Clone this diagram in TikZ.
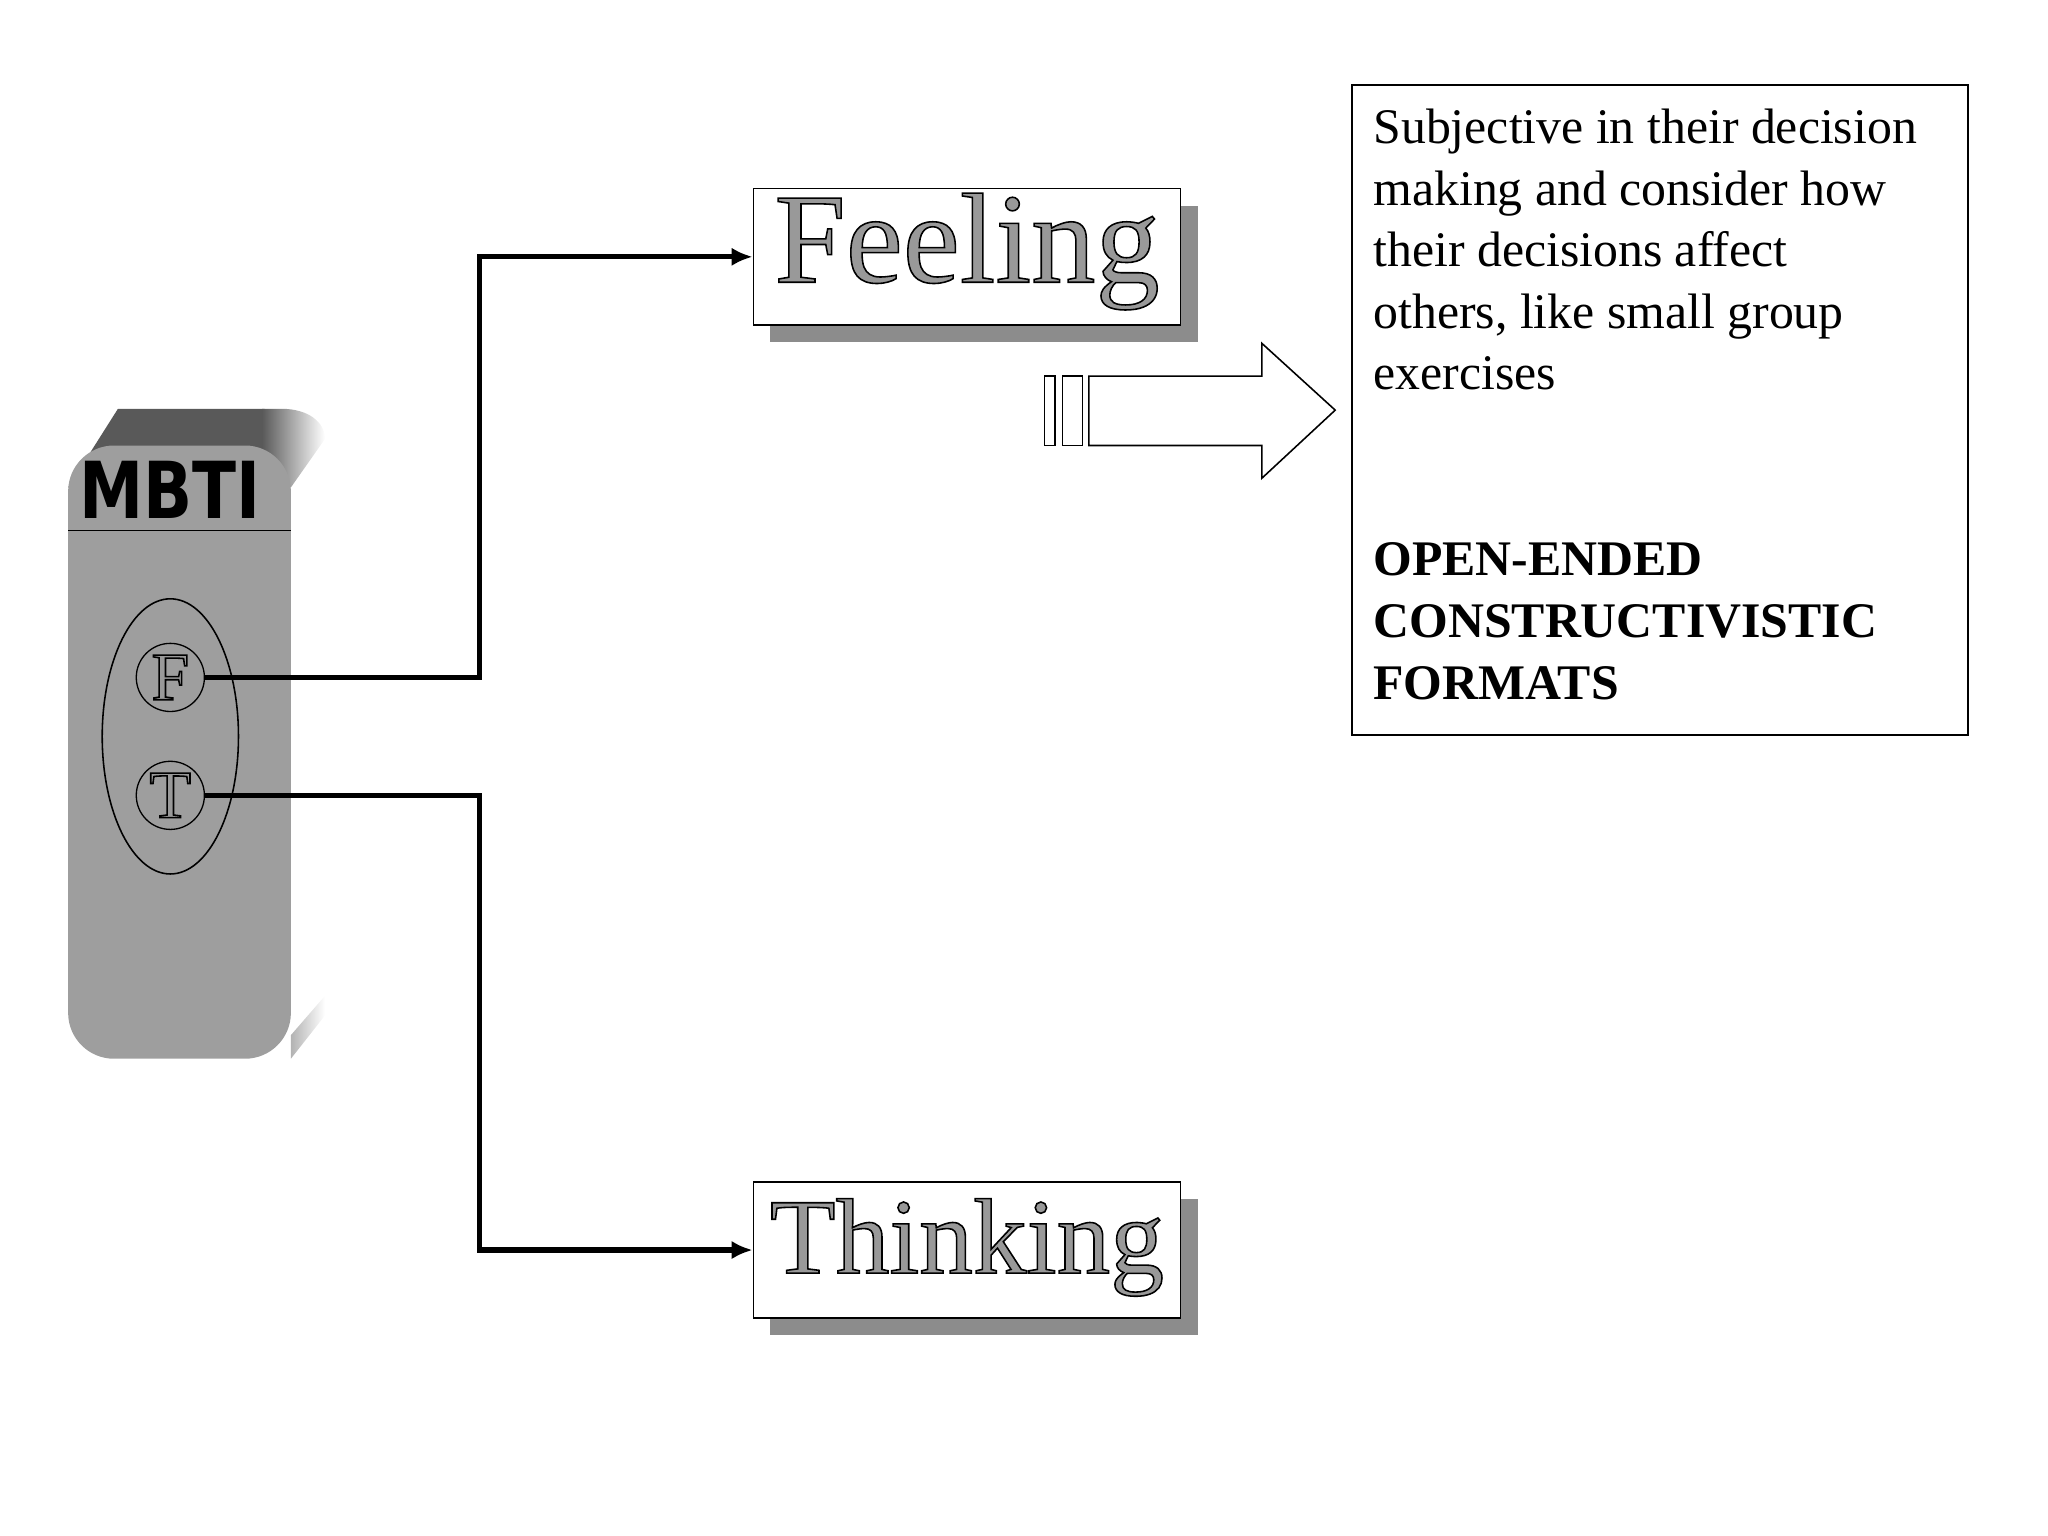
\documentclass[tikz,border=0pt]{standalone}
\usepackage{fontspec}
\setmainfont{Liberation Serif}
\newfontfamily\mbtifont{DejaVu Sans}
\usetikzlibrary{arrows.meta,shapes.arrows}
\newcommand{\outlinetext}[1]{{\color{black!40}\special{pdf:code q 2 Tr 1.2 w 0 G}#1\special{pdf:code Q}}}
\tikzset{
  conn/.style={line width=4pt,-{Latex[length=16pt,width=14pt]}},
  lbox/.style={draw,line width=1.2pt,fill=white,minimum width=326pt,minimum height=104pt,inner sep=0pt},
  shad/.style={fill=black!45},
}
\begin{document}
\begin{tikzpicture}[x=1pt,y=-1pt]
\useasboundingbox (0,0) rectangle (1563,1172);
% MBTI block
\fill[black!65] (52,372) -- (90,312) -- (202,312) -- (202,372) -- cycle;
\shade[left color=black!65,right color=white] (200,312) -- (215,312) .. controls (235,312) and (248,322) .. (248,335) -- (222,372) -- (200,372) -- cycle;
\shade[left color=black!30,right color=white] (222,790) -- (248,760) -- (248,775) -- (222,808) -- cycle;
\node[fill=black!38,rounded corners=35pt,minimum width=170pt,minimum height=468pt,inner sep=0pt] (mbti) at (137,574) {};
\draw[line width=1pt] (52,405) -- (222,405);
\node[font=\mbtifont\bfseries\fontsize{60}{60}\selectfont,xscale=0.82] (mt) at (130,374) {MBTI};
\draw[line width=1.2pt] (130,562) ellipse[x radius=52,y radius=105];
\node[circle,draw,line width=1pt,minimum size=52pt,inner sep=0pt,font=\fontsize{52}{52}\selectfont] (f) at (130,517) {\outlinetext{F}};
\node[circle,draw,line width=1pt,minimum size=52pt,inner sep=0pt,font=\fontsize{52}{52}\selectfont] (t) at (130,607) {\outlinetext{T}};
% boxes
\fill[shad] (588,157) rectangle (914,261);
\node[lbox] (feel) at (738,196) {};
\node[font=\fontsize{98}{98}\selectfont,inner sep=0pt] (feeltxt) at (738,192) {\outlinetext{Feeling}};
\fill[shad] (588,915) rectangle (914,1019);
\node[lbox] (think) at (738,954) {};
\node[font=\fontsize{82}{82}\selectfont,inner sep=0pt] (thinktxt) at (738,952) {\outlinetext{Thinking}};
% connectors
\draw[conn] (f.east) -- (366,517) |- (feel.west);
\draw[conn] (t.east) -- (366,607) |- (think.west);
% block arrow
\draw[line width=1.2pt] (797,287) rectangle (805,340);
\draw[line width=1.2pt] (811,287) rectangle (826,340);
\draw[line width=1.2pt] (831,287) -- (963,287) -- (963,262) -- (1019,313) -- (963,365) -- (963,340) -- (831,340) -- cycle;
% text box
\node[draw,line width=1.2pt,minimum width=470pt,minimum height=496pt,inner sep=0pt] (tb) at (1267,313) {};
\node[anchor=north west,align=left,font=\fontsize{38}{47}\selectfont,inner sep=0pt] (txt) at (1048,83) {Subjective in their decision\\making and consider how\\their decisions affect\\others, like small group\\exercises\\[95pt]
\bfseries OPEN-ENDED\\\bfseries CONSTRUCTIVISTIC\\\bfseries FORMATS};
\end{tikzpicture}
\end{document}
